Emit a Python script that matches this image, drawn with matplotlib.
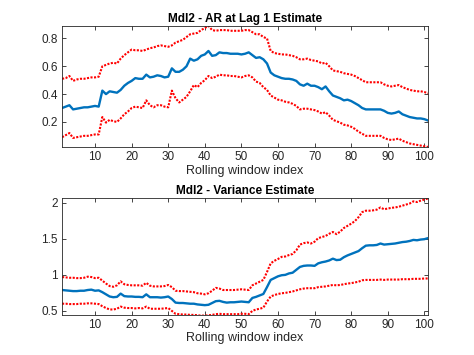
import numpy as np
import matplotlib
matplotlib.use("Agg")
import matplotlib.pyplot as plt

plt.rcParams['font.family'] = ['Liberation Sans', 'DejaVu Sans']

# rolling window index
idx = np.arange(1, 102)

# AR at lag 1: estimate and confidence bounds
ar_est = [0.30, 0.31, 0.32, 0.29, 0.295, 0.30, 0.305, 0.305, 0.31, 0.315,
          0.31, 0.425, 0.40, 0.42, 0.415, 0.41, 0.43, 0.46, 0.48, 0.495,
          0.515, 0.51, 0.51, 0.54, 0.52, 0.525, 0.535, 0.53, 0.52, 0.525,
          0.585, 0.56, 0.56, 0.575, 0.60, 0.655, 0.64, 0.65, 0.675, 0.685,
          0.71, 0.675, 0.68, 0.70, 0.695, 0.695, 0.69, 0.69, 0.69, 0.685,
          0.69, 0.70, 0.68, 0.66, 0.665, 0.65, 0.62, 0.555, 0.535, 0.525,
          0.515, 0.51, 0.51, 0.505, 0.495, 0.47, 0.46, 0.475, 0.46, 0.46,
          0.45, 0.435, 0.455, 0.42, 0.39, 0.38, 0.37, 0.355, 0.36, 0.35,
          0.335, 0.32, 0.30, 0.29, 0.29, 0.29, 0.29, 0.29, 0.28, 0.265,
          0.26, 0.265, 0.275, 0.255, 0.245, 0.235, 0.23, 0.225, 0.225, 0.22,
          0.21]
ar_hi = [0.51, 0.515, 0.53, 0.495, 0.505, 0.51, 0.51, 0.515, 0.52, 0.52,
         0.525, 0.60, 0.61, 0.62, 0.625, 0.62, 0.655, 0.68, 0.70, 0.72,
         0.715, 0.715, 0.71, 0.72, 0.73, 0.735, 0.745, 0.75, 0.745, 0.74,
         0.75, 0.77, 0.78, 0.79, 0.81, 0.83, 0.835, 0.84, 0.86, 0.875,
         0.89, 0.86, 0.855, 0.86, 0.86, 0.86, 0.855, 0.855, 0.855, 0.855,
         0.86, 0.86, 0.845, 0.83, 0.83, 0.81, 0.80, 0.71, 0.695, 0.69,
         0.685, 0.685, 0.68, 0.675, 0.665, 0.65, 0.65, 0.655, 0.645, 0.64,
         0.635, 0.62, 0.625, 0.60, 0.57, 0.565, 0.56, 0.55, 0.545, 0.54,
         0.53, 0.515, 0.50, 0.485, 0.485, 0.485, 0.485, 0.485, 0.47, 0.46,
         0.455, 0.46, 0.465, 0.45, 0.44, 0.43, 0.425, 0.42, 0.42, 0.415,
         0.405]
ar_lo = [0.09, 0.105, 0.12, 0.085, 0.09, 0.095, 0.10, 0.10, 0.105, 0.11,
         0.11, 0.235, 0.195, 0.215, 0.205, 0.20, 0.225, 0.255, 0.275, 0.30,
         0.31, 0.305, 0.30, 0.355, 0.32, 0.305, 0.32, 0.32, 0.31, 0.305,
         0.425, 0.37, 0.34, 0.36, 0.38, 0.42, 0.465, 0.45, 0.48, 0.50,
         0.53, 0.515, 0.525, 0.54, 0.535, 0.535, 0.53, 0.53, 0.525, 0.52,
         0.53, 0.535, 0.52, 0.49, 0.48, 0.45, 0.43, 0.39, 0.375, 0.36,
         0.355, 0.345, 0.34, 0.33, 0.315, 0.29, 0.295, 0.295, 0.29, 0.285,
         0.275, 0.26, 0.27, 0.245, 0.215, 0.205, 0.195, 0.18, 0.175, 0.165,
         0.15, 0.13, 0.115, 0.10, 0.10, 0.10, 0.10, 0.10, 0.085, 0.075,
         0.07, 0.075, 0.08, 0.065, 0.055, 0.045, 0.04, 0.035, 0.03, 0.025,
         0.02]

# variance: estimate and confidence bounds
var_est = [0.79, 0.785, 0.78, 0.775, 0.775, 0.78, 0.78, 0.79, 0.795, 0.78,
           0.785, 0.76, 0.73, 0.70, 0.69, 0.695, 0.74, 0.705, 0.70, 0.70,
           0.695, 0.695, 0.69, 0.73, 0.69, 0.69, 0.69, 0.685, 0.69, 0.70,
           0.665, 0.615, 0.61, 0.61, 0.605, 0.60, 0.60, 0.59, 0.585, 0.58,
           0.585, 0.61, 0.635, 0.64, 0.625, 0.615, 0.62, 0.62, 0.625, 0.63,
           0.625, 0.62, 0.68, 0.695, 0.715, 0.735, 0.83, 0.93, 0.955, 0.98,
           0.995, 1.0, 1.02, 1.03, 1.07, 1.11, 1.125, 1.13, 1.13, 1.125,
           1.16, 1.175, 1.185, 1.2, 1.225, 1.205, 1.21, 1.245, 1.27, 1.29,
           1.31, 1.33, 1.37, 1.405, 1.41, 1.41, 1.415, 1.435, 1.42, 1.425,
           1.43, 1.435, 1.445, 1.455, 1.46, 1.47, 1.485, 1.48, 1.49, 1.495,
           1.51]
var_hi = [0.97, 0.965, 0.96, 0.96, 0.955, 0.955, 0.96, 0.975, 0.97, 0.955,
          0.96, 0.92, 0.88, 0.845, 0.835, 0.855, 0.91, 0.87, 0.86, 0.855,
          0.855, 0.855, 0.85, 0.89, 0.85, 0.84, 0.84, 0.84, 0.845, 0.86,
          0.83, 0.78, 0.775, 0.775, 0.77, 0.765, 0.76, 0.745, 0.74, 0.73,
          0.745, 0.78, 0.82, 0.81, 0.79, 0.79, 0.79, 0.79, 0.795, 0.80,
          0.795, 0.79, 0.855, 0.88, 0.905, 0.93, 1.04, 1.16, 1.195, 1.22,
          1.25, 1.255, 1.275, 1.29, 1.34, 1.42, 1.44, 1.45, 1.435, 1.46,
          1.51, 1.525, 1.54, 1.57, 1.595, 1.565, 1.60, 1.65, 1.68, 1.71,
          1.745, 1.80, 1.87, 1.89, 1.89, 1.895, 1.905, 1.935, 1.91, 1.92,
          1.93, 1.935, 1.945, 1.96, 1.975, 1.99, 2.02, 2.01, 2.03, 2.045,
          2.06]
var_lo = [0.60, 0.60, 0.595, 0.595, 0.595, 0.60, 0.60, 0.605, 0.605, 0.60,
          0.595, 0.565, 0.54, 0.52, 0.52, 0.53, 0.56, 0.545, 0.54, 0.54,
          0.535, 0.54, 0.535, 0.56, 0.53, 0.53, 0.53, 0.53, 0.535, 0.54,
          0.50, 0.46, 0.455, 0.45, 0.45, 0.445, 0.445, 0.44, 0.435, 0.435,
          0.44, 0.445, 0.455, 0.46, 0.455, 0.455, 0.455, 0.455, 0.455, 0.46,
          0.46, 0.455, 0.50, 0.52, 0.53, 0.545, 0.63, 0.70, 0.72, 0.735,
          0.745, 0.75, 0.76, 0.77, 0.785, 0.80, 0.81, 0.815, 0.815, 0.815,
          0.83, 0.835, 0.84, 0.85, 0.86, 0.855, 0.86, 0.87, 0.88, 0.885,
          0.895, 0.905, 0.925, 0.93, 0.93, 0.93, 0.93, 0.935, 0.93, 0.935,
          0.935, 0.935, 0.935, 0.94, 0.94, 0.94, 0.945, 0.945, 0.945, 0.95,
          0.95]

blue = (0, 0.447, 0.741)
axcol = (0.15, 0.15, 0.15)
dots = (0, (1, 0.7))

fig = plt.figure(figsize=(4.74, 3.55), dpi=100)
ax1 = fig.add_axes([0.131, 0.586, 0.772, 0.341])
ax2 = fig.add_axes([0.131, 0.113, 0.772, 0.329])

panels = [
    (ax1, ar_est, ar_hi, ar_lo, 'Mdl2 - AR at Lag 1 Estimate', (0.02, 0.89), [0.2, 0.4, 0.6, 0.8], ['0.2', '0.4', '0.6', '0.8']),
    (ax2, var_est, var_hi, var_lo, 'Mdl2 - Variance Estimate', (0.445, 2.065), [0.5, 1, 1.5, 2], ['0.5', '1', '1.5', '2']),
]

for ax, est, hi, lo, title, ylim, yt, ytl in panels:
    ax.plot(idx, est, color=blue, lw=1.7)
    ax.plot(idx, hi, color='red', lw=1.5, linestyle=dots)
    ax.plot(idx, lo, color='red', lw=1.5, linestyle=dots)
    ax.set_xlim(1, 101)
    ax.set_ylim(*ylim)
    ax.set_xticks(range(10, 101, 10))
    ax.set_yticks(yt)
    ax.set_yticklabels(ytl)
    ax.set_title(title, fontsize=8.5, fontweight='bold', color='black', pad=3)
    ax.set_xlabel('Rolling window index', fontsize=9, color=axcol, labelpad=1)
    ax.tick_params(direction='in', top=True, right=True, labelsize=8.5,
                   colors=axcol, length=3, width=0.6, pad=3)
    for s in ax.spines.values():
        s.set_color(axcol)
        s.set_linewidth(0.6)

fig.savefig('out.png', dpi=100)
